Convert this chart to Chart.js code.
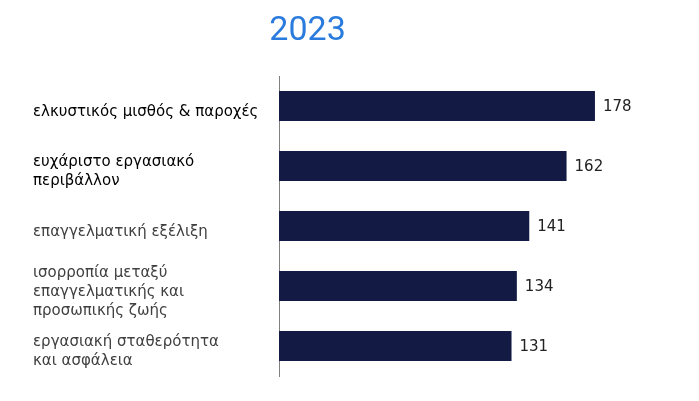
<!DOCTYPE html>
<html lang="el">
<head>
    <meta charset="UTF-8">
    <title>2023</title>
    <script src="https://cdn.jsdelivr.net/npm/chart.js"></script>
    <style>
        * { margin: 0; padding: 0; box-sizing: border-box; }
        body { background: #fff; width: 699px; height: 401px; overflow: hidden; }
        .chart-container { position: relative; width: 699px; height: 401px; }
    </style>
</head>
<body>
    <div class="chart-container">
        <canvas id="reasonsChart"></canvas>
    </div>

    <script>
        // Data
        const chartTitle = '2023';
        const categories = [
            ['ελκυστικός μισθός & παροχές'],
            ['ευχάριστο εργασιακό', 'περιβάλλον'],
            ['επαγγελματική εξέλιξη'],
            ['ισορροπία μεταξύ', 'επαγγελματικής και', 'προσωπικής ζωής'],
            ['εργασιακή σταθερότητα', 'και ασφάλεια']
        ];
        const values = [178, 162, 141, 134, 131];
        const labelColors = ['#000000', '#000000', '#404040', '#404040', '#404040'];

        // title sits a bit left of the canvas centre, like on the slide
        const slideTitle = {
            id: 'slideTitle',
            afterDraw(chart) {
                const ctx = chart.ctx;
                ctx.save();
                ctx.font = '34px Roboto, "Liberation Sans", sans-serif';
                ctx.fillStyle = '#2A7BDE';
                ctx.textAlign = 'center';
                ctx.textBaseline = 'alphabetic';
                ctx.fillText(chartTitle, chart.width * 0.44, 40);
                ctx.restore();
            }
        };

        // value labels at the end of each bar
        const valueLabels = {
            id: 'valueLabels',
            afterDatasetsDraw(chart) {
                const ctx = chart.ctx;
                const meta = chart.getDatasetMeta(0);
                ctx.save();
                ctx.font = '15px "DejaVu Sans"';
                ctx.fillStyle = '#222222';
                ctx.textAlign = 'left';
                ctx.textBaseline = 'middle';
                meta.data.forEach((bar, i) => {
                    ctx.fillText(values[i], bar.x + 8, bar.y + 1);
                });
                ctx.restore();
            }
        };

        const ctx = document.getElementById('reasonsChart').getContext('2d');
        const chart = new Chart(ctx, {
            type: 'bar',
            data: {
                labels: categories,
                datasets: [{
                    data: values,
                    backgroundColor: '#131B45',
                    borderWidth: 0,
                    categoryPercentage: 0.5,
                    barPercentage: 1.0
                }]
            },
            options: {
                indexAxis: 'y',
                responsive: true,
                maintainAspectRatio: false,
                animation: false,
                layout: { padding: { left: 33, right: 65, top: 76, bottom: 25 } },
                plugins: {
                    legend: { display: false },
                    tooltip: { enabled: false },
                    title: { display: false }
                },
                scales: {
                    x: {
                        display: false,
                        min: 0,
                        max: 200
                    },
                    y: {
                        afterFit(scale) { scale.width = 246; },
                        grid: { display: false, drawTicks: false },
                        border: { display: true, color: '#808080', width: 1 },
                        ticks: {
                            autoSkip: false,
                            crossAlign: 'far',
                            padding: 0,
                            labelOffset: 6,
                            color: (c) => labelColors[c.index],
                            font: { family: '"DejaVu Sans"', size: 15, lineHeight: 1.27 }
                        }
                    }
                }
            },
            plugins: [valueLabels, slideTitle]
        });
    </script>
</body>
</html>
